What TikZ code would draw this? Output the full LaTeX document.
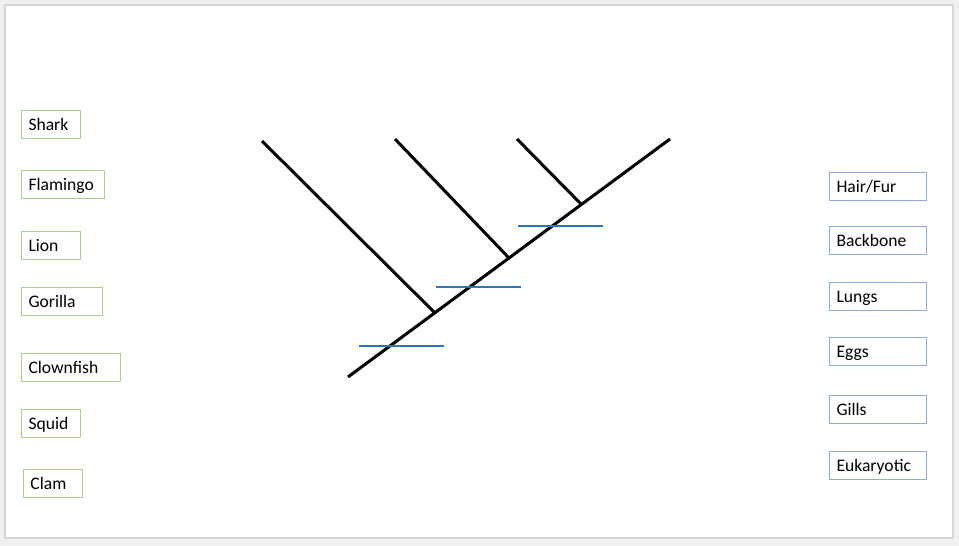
\documentclass[tikz,border=0pt]{standalone}
\usepackage{fontspec}
\setmainfont{Carlito}
\usetikzlibrary{positioning}
\definecolor{pagebg}{RGB}{240, 240, 240}
\definecolor{pageedge}{RGB}{214, 214, 214}
\definecolor{taxacolor}{RGB}{169, 209, 142}
\definecolor{traitcolor}{RGB}{143, 170, 220}
\definecolor{markcolor}{RGB}{46, 117, 190}

\begin{document}
\begin{tikzpicture}[x=1pt, y=-1pt, line cap=round, line join=round,
    taxon/.style={draw=taxacolor, line width=1pt, fill=white, anchor=north west,
      inner xsep=7pt, inner ysep=0pt, minimum height=28pt, align=left,
      text height=14pt, text depth=2pt, font=\fontsize{17.6}{20}\selectfont},
    trait/.style={taxon, draw=traitcolor, text width=83pt},
    branch/.style={line width=3pt, black, line cap=butt},
    marker/.style={line width=1.5pt, markcolor, line cap=butt}]

  % Page
  \useasboundingbox (0,0) rectangle (959,546);
  \fill[pagebg] (0,0) rectangle (959,546);
  \draw[pageedge, line width=2pt, fill=white] (5,5) rectangle (953,538);

  % Organisms
  \node[taxon, text width=45pt] (shark) at (21,110) {Shark};
  \node[taxon, text width=69pt] (flamingo) at (21,170) {Flamingo};
  \node[taxon, text width=45pt] (lion) at (21,231) {Lion};
  \node[taxon, text width=67pt] (gorilla) at (21,287) {Gorilla};
  \node[taxon, text width=85pt] (clownfish) at (21,353) {Clownfish};
  \node[taxon, text width=45pt] (squid) at (21,409) {Squid};
  \node[taxon, text width=45pt] (clam) at (23,469) {Clam};

  % Characteristics
  \node[trait] (hair) at (829,172) {Hair/Fur};
  \node[trait] (backbone) at (829,226) {Backbone};
  \node[trait] (lungs) at (829,282) {Lungs};
  \node[trait] (eggs) at (829,337) {Eggs};
  \node[trait] (gills) at (829,395) {Gills};
  \node[trait] (eukaryotic) at (829,451) {Eukaryotic};

  % Cladogram
  \coordinate (root) at (348,377);
  \coordinate (top) at (670,139);
  \coordinate (fork1) at (435,313);
  \coordinate (fork2) at (509,258);
  \coordinate (fork3) at (581,204);
  \draw[branch] (root) -- (top);
  \draw[branch] (262,141) -- (fork1);
  \draw[branch] (395,139) -- (fork2);
  \draw[branch] (517,139) -- (fork3);

  % Trait markers
  \draw[marker] (359,346) -- (444,346);
  \draw[marker] (436,287) -- (521,287);
  \draw[marker] (518,226) -- (603,226);

\end{tikzpicture}
\end{document}
